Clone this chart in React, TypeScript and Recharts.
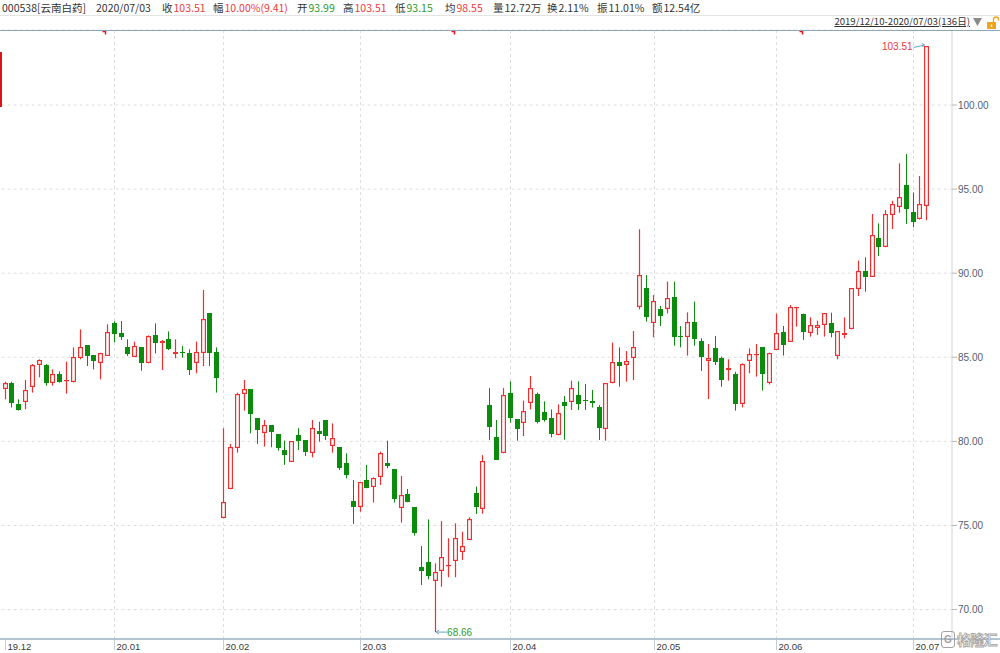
import React from "react";
import { ComposedChart, Bar, XAxis, YAxis, CartesianGrid, ReferenceDot } from "recharts";

// daily prices, 2019/12/10 - 2020/07/03 (136 trading days)
const open = [
  83.09, 83.49, 82.22, 82.36, 83.25, 84.56, 84.52, 83.45, 83.99, 83.6, 83.55, 84.98, 85.73, 85.12, 84.64, 85.08,
  87.06, 86.42, 85.59, 85.04, 85.59, 84.64, 86.3, 85.83, 86.09, 85.18, 85.33, 85.23, 84.68, 85.27, 87.61, 85.29,
  75.43, 77.15, 79.59, 82.8, 83.1, 81.37, 80.52, 80.95, 80.44, 79.49, 78.8, 80.36, 80.08, 79.33, 80.64, 81.27, 79.75, 79.65, 78.7, 76.46,
  76.08, 77.7, 77.31, 77.86, 78.7, 78.34, 76.06, 76.87, 76.08, 72.55, 72.85, 71.7, 72.27, 72.61, 72.89, 73.41, 74.14, 76.91, 75.98, 82.14, 80.24, 79.29,
  82.86, 81.31, 81.11, 82.26, 82.82, 81.75, 81.37, 80.36, 82.36, 82.36, 82.73, 82.46, 82.41, 82.06, 80.76, 83.45, 84.74, 84.54, 84.94, 87.97, 89.1,
  87.06, 87.85, 87.85, 88.6, 86.27, 86.19, 87.08, 85.99, 84.78, 85.55, 84.94, 84.24, 84.01, 82.22, 84.78, 85.18, 85.59, 83.45,
  85.45, 86.53, 85.93, 87.93, 87.6, 86.42, 86.72, 86.92, 87.06, 85.08, 86.33, 86.66, 89.04, 90.15, 89.79, 92.07, 91.54, 93.46, 93.92, 95.22,
  93.66, 93.2, 93.99,
];
const high = [
  83.55, 83.55, 82.5, 83.65, 84.6, 84.88, 84.6, 84.28, 84.16, 84.74, 85.59, 86.66, 85.73, 85.12, 85.27, 86.96,
  87.14, 87.16, 86.07, 85.93, 85.59, 86.3, 87.02, 86.03, 86.54, 86.07, 85.67, 85.47, 85.93, 89.0, 87.61, 85.59,
  80.78, 79.85, 82.9, 83.65, 83.1, 81.37, 81.27, 80.95, 80.44, 80.04, 80.02, 80.78, 80.08, 81.27, 81.17, 81.27, 81.07, 79.65, 79.29, 77.7,
  77.57, 78.6, 77.86, 79.39, 80.04, 78.34, 77.94, 77.17, 76.08, 73.78, 75.36, 72.75, 75.26, 74.24, 75.13, 74.63, 75.49, 77.31, 79.18, 83.17, 81.27, 83.17,
  83.57, 81.31, 82.42, 83.89, 82.9, 82.38, 81.9, 82.2, 82.7, 83.61, 83.57, 83.41, 83.06, 82.16, 83.45, 85.87, 85.59, 85.37, 86.56, 92.61, 89.89,
  88.7, 88.05, 89.5, 89.5, 86.86, 87.67, 88.31, 86.13, 85.79, 86.27, 85.04, 84.88, 84.14, 84.64, 85.53, 85.79, 85.59, 85.28,
  87.6, 86.86, 88.11, 88.0, 87.6, 87.37, 87.18, 87.61, 87.65, 86.56, 87.37, 89.1, 90.75, 90.94, 93.52, 92.96, 93.76, 94.31, 96.53, 97.09,
  94.79, 95.78, 103.51,
];
const low = [
  82.5, 82.02, 81.83, 81.91, 82.9, 83.81, 83.31, 83.31, 83.49, 82.84, 83.5, 84.88, 84.48, 84.28, 83.69, 85.08,
  85.89, 86.03, 85.08, 85.04, 84.2, 84.64, 85.23, 84.24, 85.43, 84.94, 84.98, 83.95, 84.05, 84.48, 84.48, 82.9,
  75.43, 77.15, 79.33, 81.83, 80.48, 79.85, 79.69, 79.65, 79.45, 78.6, 78.8, 79.49, 79.13, 79.05, 79.98, 80.08, 79.33, 78.3, 77.8, 75.09,
  75.82, 77.21, 76.36, 77.41, 78.4, 76.36, 75.17, 76.38, 74.4, 71.46, 71.8, 68.66, 71.36, 71.92, 71.92, 72.95, 74.14, 75.68, 75.7, 80.08, 78.9, 79.29,
  81.11, 80.04, 80.32, 81.9, 81.07, 81.17, 80.24, 80.36, 80.1, 81.87, 81.87, 81.87, 82.01, 80.08, 80.04, 83.45, 83.25, 83.55, 83.65, 87.85, 87.12,
  86.19, 86.86, 87.61, 85.69, 85.59, 85.1, 85.69, 84.19, 82.52, 84.54, 83.25, 83.61, 81.83, 82.02, 84.05, 83.85, 83.02, 83.39,
  85.45, 85.1, 85.93, 86.82, 86.03, 86.23, 86.33, 86.23, 86.19, 84.88, 86.13, 86.66, 88.64, 88.9, 89.79, 91.02, 91.54, 92.63, 93.6, 92.92,
  92.73, 93.2, 93.15,
];
const close = [
  83.49, 82.3, 81.87, 83.05, 84.56, 84.82, 83.45, 83.99, 83.53, 83.63, 85.04, 85.63, 85.08, 84.76, 85.23, 86.48,
  86.38, 86.19, 85.18, 85.67, 84.64, 86.27, 85.83, 85.97, 85.51, 85.33, 85.23, 84.26, 85.29, 87.26, 85.27, 83.75,
  76.38, 79.65, 82.82, 83.1, 81.63, 80.68, 80.97, 80.56, 79.63, 79.19, 80.02, 80.04, 79.35, 80.78, 80.44, 80.34, 80.22, 78.4, 78.0, 76.12,
  77.57, 77.21, 77.8, 79.33, 78.54, 76.58, 76.81, 76.38, 74.54, 72.32, 72.02, 72.25, 73.12, 72.65, 74.24, 73.8, 75.37, 76.12, 78.82, 80.84, 78.9, 82.78,
  81.37, 80.74, 81.83, 83.17, 81.17, 81.27, 80.44, 81.67, 82.08, 83.16, 82.24, 82.42, 82.26, 80.78, 83.45, 84.74, 84.5, 84.78, 85.63, 89.89, 87.38,
  88.35, 87.48, 88.51, 86.23, 86.2, 87.08, 86.07, 85.0, 84.94, 84.74, 83.65, 84.34, 82.22, 84.58, 85.18, 85.2, 84.01, 85.28,
  86.43, 85.73, 87.97, 88.0, 86.53, 86.92, 86.92, 87.61, 86.43, 86.56, 86.42, 89.1, 90.15, 89.79, 92.27, 91.54, 93.5, 94.11, 94.51, 93.82,
  93.06, 94.1, 103.51,
];

const monthIdx = [0, 16, 32, 52, 74, 95, 113, 133];
const monthLabels = ["19.12", "20.01", "20.02", "20.03", "20.04", "20.05", "20.06", "20.07"];
const priceTicks = [70, 75, 80, 85, 90, 95, 100];
const eventIdx = [15, 66, 117];

const stockName = "000538[云南白药]";
const quoteDate = "2020/07/03";
const quote = [
  { k: "收", v: "103.51", tone: "up" },
  { k: "幅", v: "10.00%(9.41)", tone: "up" },
  { k: "开", v: "93.99", tone: "down" },
  { k: "高", v: "103.51", tone: "up" },
  { k: "低", v: "93.15", tone: "down" },
  { k: "均", v: "98.55", tone: "up" },
  { k: "量", v: "12.72万", tone: "flat" },
  { k: "换", v: "2.11%", tone: "flat" },
  { k: "振", v: "11.01%", tone: "flat" },
  { k: "额", v: "12.54亿", tone: "flat" },
];
const rangeText = "2019/12/10-2020/07/03(136日)";

const RED = "#f03030";
const GREEN = "#0c8c0c";
const toneColor: Record<string, string> = { up: "#ec3b3b", down: "#2f9a2f", flat: "#333" };
const quoteX = [162, 213, 297, 343, 395, 445, 493, 547, 597, 652];
const CJK = "'Noto Sans CJK SC', sans-serif";

const rows = open.map((o, i) => ({ i, o, h: high[i], l: low[i], c: close[i] }));
const maxI = high.indexOf(Math.max(...high));
const minI = low.indexOf(Math.min(...low));
const Y_MIN = 68.25;
const Y_MAX = 104.46;
const PLOT_LEFT = 1.6;
const PLOT_RIGHT = 952;
const PAD_RIGHT = 22;

function Candle(p: any) {
  const { x, y, width, height, payload } = p;
  if (!payload) return null;
  const top = Math.min(y, y + height);
  const bot = Math.max(y, y + height);
  const k = (bot - top) / (payload.h - payload.l || 1);
  const py = (v: number) => top + (payload.h - v) * k;
  const up = payload.c >= payload.o;
  const bx = Math.round(x + width / 2 - 2.5);
  const cx = bx + 2.5;
  const b1 = Math.round(Math.min(py(payload.o), py(payload.c)));
  const b2 = Math.round(Math.max(py(payload.o), py(payload.c)));
  const bh = Math.max(b2 - b1, 1);
  if (up) {
    return (
      <g>
        <line x1={cx} x2={cx} y1={top} y2={b1} stroke={RED} strokeWidth={1.2} />
        <line x1={cx} x2={cx} y1={b1 + bh} y2={bot} stroke={RED} strokeWidth={1.2} />
        <rect x={bx + 0.6} y={b1 + 0.6} width={3.8} height={Math.max(bh - 1.2, 0.01)} fill="#fff" stroke={RED} strokeWidth={1.2} />
      </g>
    );
  }
  return (
    <g>
      <line x1={cx} x2={cx} y1={top} y2={bot} stroke={GREEN} />
      <rect x={bx} y={b1} width={5} height={bh} fill={GREEN} />
    </g>
  );
}

function MonthTick(p: any) {
  const n = monthIdx.indexOf(p.payload.value);
  const x = Math.round(p.x) + 0.5;
  return (
    <g>
      <line x1={x} x2={x} y1={p.y + 1} y2={p.y + 11} stroke="#c4ccd4" />
      <text x={x + 2} y={p.y + 7} dominantBaseline="central" fontSize={9.5} fill="#3a3a3a" fontFamily="'Liberation Sans', sans-serif">
        {monthLabels[n]}
      </text>
    </g>
  );
}

// month gridlines sit on band centres (same band layout as the category x axis)
function monthLines() {
  const bw = (PLOT_RIGHT - PLOT_LEFT - PAD_RIGHT) / rows.length;
  return monthIdx.slice(1).map((m) => Math.round(PLOT_LEFT + bw * (m + 0.5)) + 0.5);
}

export default function App() {
  return (
    <div style={{ position: "absolute", left: 0, top: 0, width: 1000, height: 653, background: "#fff", overflow: "hidden" }}>
      <ComposedChart width={1000} height={653} data={rows} margin={{ top: 30, right: 0, bottom: 0, left: PLOT_LEFT }} barSize={5}>
        <CartesianGrid stroke="#dedede" strokeDasharray="3 3" verticalCoordinatesGenerator={monthLines} />
        <XAxis
          dataKey="i"
          type="category"
          height={14}
          ticks={monthIdx}
          interval={0}
          tick={<MonthTick />}
          tickLine={false}
          axisLine={false}
          tickSize={0}
          tickMargin={0}
          padding={{ left: 0, right: PAD_RIGHT }}
        />
        <YAxis
          orientation="right"
          width={1000 - PLOT_RIGHT}
          domain={[Y_MIN, Y_MAX]}
          allowDataOverflow
          ticks={priceTicks}
          interval={0}
          tickFormatter={(v: number) => v.toFixed(2)}
          tick={{ fontSize: 10, fill: "#56616c", fontFamily: "'Liberation Sans', sans-serif" }}
          tickSize={5}
          tickMargin={1}
          tickLine={{ stroke: "#b8b8b8" }}
          axisLine={{ stroke: "#d4d4d4" }}
        />
        <Bar dataKey={(d: any) => [d.l, d.h]} shape={Candle} isAnimationActive={false} />
        {eventIdx.map((e) => (
          <ReferenceDot
            key={e}
            x={e}
            y={Y_MAX}
            r={0}
            shape={(p: any) => {
              const vx = Math.round(p.cx) - 1.5;
              return <path d={`M${vx - 3},${p.cy + 1.5} H${vx} V${p.cy + 4.5}`} stroke="#e8161c" strokeWidth={1.5} fill="none" />;
            }}
          />
        ))}
        <ReferenceDot
          x={maxI}
          y={high[maxI]}
          r={0}
          shape={(p: any) => (
            <g>
              <line x1={p.cx - 13} y1={p.cy + 1.5} x2={p.cx - 2} y2={p.cy - 1} stroke="#6aa6c8" />
              <path d={`M${p.cx - 5},${p.cy - 2.5} L${p.cx - 2},${p.cy - 1} L${p.cx - 4.5},${p.cy + 1}`} stroke="#6aa6c8" fill="none" />
              <text x={p.cx - 14} y={p.cy + 1} textAnchor="end" dominantBaseline="central" fontSize={10} fill="#e8383d" fontFamily="'Liberation Sans', sans-serif">
                {high[maxI].toFixed(2)}
              </text>
            </g>
          )}
        />
        <ReferenceDot
          x={minI}
          y={low[minI]}
          r={0}
          shape={(p: any) => (
            <g>
              <line x1={p.cx + 1} y1={p.cy} x2={p.cx + 12} y2={p.cy} stroke="#6aa6c8" />
              <path d={`M${p.cx + 4},${p.cy - 2} L${p.cx + 1},${p.cy} L${p.cx + 4},${p.cy + 2}`} stroke="#6aa6c8" fill="none" />
              <text x={p.cx + 12} y={p.cy} dominantBaseline="central" fontSize={10} fill="#2f9a2f" fontFamily="'Liberation Sans', sans-serif">
                {low[minI].toFixed(2)}
              </text>
            </g>
          )}
        />
      </ComposedChart>

      {/* quote header */}
      <div style={{ position: "absolute", left: 2, top: 0, height: 16, lineHeight: "16px", fontSize: 10.5, fontFamily: CJK, color: "#333", whiteSpace: "nowrap" }}>
        {stockName}
      </div>
      <div style={{ position: "absolute", left: 96, top: 0, height: 16, lineHeight: "16px", fontSize: 10.5, fontFamily: CJK, color: "#333", whiteSpace: "nowrap" }}>
        {quoteDate}
      </div>
      {quote.map((q, n) => (
        <div key={q.k} style={{ position: "absolute", left: quoteX[n], top: 0, height: 16, lineHeight: "16px", fontSize: 10.5, fontFamily: CJK, whiteSpace: "nowrap" }}>
          <span style={{ color: "#333" }}>{q.k}</span>
          <span style={{ color: toneColor[q.tone], marginLeft: 1 }}>{q.v}</span>
        </div>
      ))}
      <div style={{ position: "absolute", left: 0, top: 15, width: 1000, height: 1, background: "#e4e4e4" }} />
      <div style={{ position: "absolute", right: 30, top: 15, lineHeight: "13px", fontSize: 9.6, fontFamily: CJK, color: "#333", textDecoration: "underline", whiteSpace: "nowrap" }}>
        {rangeText}
      </div>
      <svg style={{ position: "absolute", left: 972, top: 16 }} width={28} height={14}>
        <path d="M1,2 H10 L5.5,10 Z" fill="#8a8a8a" />
        <rect x={15} y={6} width={9} height={7} fill="#f2a31c" />
        <path d="M21.5,6 V3.5 A2.5,2.5 0 0 1 26.5,3.5 V4.5" stroke="#f2a31c" strokeWidth={1.3} fill="none" />
        <rect x={18.8} y={8.5} width={1.4} height={2.5} fill="#fff" />
      </svg>
      {/* frame lines */}
      <div style={{ position: "absolute", left: 0, top: 30, width: 1000, height: 1, background: "#8fa6b6" }} />
      <div style={{ position: "absolute", left: 0, top: 638, width: 1000, height: 2, background: "#b3c3d0" }} />
      <div style={{ position: "absolute", left: 0, top: 52, width: 2, height: 55, background: "#d9141c" }} />
      {/* watermark */}
      <div style={{ position: "absolute", left: 941, top: 629, display: "flex", alignItems: "center", opacity: 0.9 }}>
        <div style={{ width: 12, height: 15, border: "1.5px solid #9a9a9a", borderRadius: 3, fontSize: 10, lineHeight: "15px", textAlign: "center", color: "#9a9a9a", fontFamily: "'Liberation Sans', sans-serif", fontWeight: 700 }}>
          G
        </div>
        <div style={{ marginLeft: 2, fontSize: 14, fontFamily: CJK, fontWeight: 700, color: "#fff", WebkitTextStroke: "0.8px #9a9a9a", letterSpacing: -0.8 }}>
          格隆汇
        </div>
      </div>
    </div>
  );
}
